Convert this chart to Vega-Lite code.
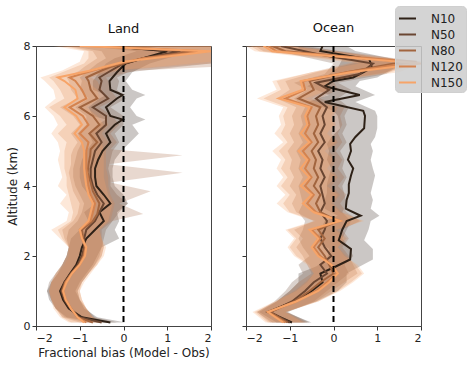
{
"$schema": "https://vega.github.io/schema/vega-lite/v6.json",
"config": {"font": "DejaVu Sans", "view": {"stroke": "#444"},
  "axis": {"grid": false, "labelFontSize": 11, "titleFontSize": 12, "titleFontWeight": "normal", "tickColor": "#333", "domainColor": "#444", "labelColor": "#222", "titleColor": "#222", "tickSize": 4},
  "title": {"fontSize": 13, "fontWeight": "normal", "offset": 4, "color": "#111"}},
"bounds": "flush", "spacing": 35,
"resolve": {"scale": {"stroke": "independent"}, "legend": {"stroke": "independent"}},
"datasets": {
"land": [
{"s":"N10","alt":0.1,"x":-0.3,"lo":-0.6,"hi":0.05},{"s":"N10","alt":0.25,"x":-0.95,"lo":-1.3,"hi":-0.6},{"s":"N10","alt":0.5,"x":-1.25,"lo":-1.55,"hi":-0.9},{"s":"N10","alt":0.75,"x":-1.38,"lo":-1.7,"hi":-1.0},{"s":"N10","alt":1.0,"x":-1.45,"lo":-1.75,"hi":-1.1},{"s":"N10","alt":1.25,"x":-1.35,"lo":-1.65,"hi":-1.0},{"s":"N10","alt":1.5,"x":-1.22,"lo":-1.5,"hi":-0.85},{"s":"N10","alt":1.75,"x":-1.08,"lo":-1.4,"hi":-0.7},{"s":"N10","alt":2.0,"x":-1.0,"lo":-1.3,"hi":-0.6},{"s":"N10","alt":2.25,"x":-0.95,"lo":-1.25,"hi":-0.5},{"s":"N10","alt":2.5,"x":-0.85,"lo":-1.2,"hi":-0.1},{"s":"N10","alt":2.75,"x":-0.65,"lo":-1.0,"hi":-0.2},{"s":"N10","alt":3.0,"x":-0.45,"lo":-0.8,"hi":-0.1},{"s":"N10","alt":3.25,"x":-0.55,"lo":-0.9,"hi":-0.15},{"s":"N10","alt":3.5,"x":-0.3,"lo":-0.65,"hi":0.1},{"s":"N10","alt":3.75,"x":-0.45,"lo":-0.8,"hi":0.0},{"s":"N10","alt":4.0,"x":-0.62,"lo":-0.95,"hi":-0.2},{"s":"N10","alt":4.25,"x":-0.65,"lo":-1.0,"hi":-0.25},{"s":"N10","alt":4.5,"x":-0.65,"lo":-1.0,"hi":-0.25},{"s":"N10","alt":4.75,"x":-0.58,"lo":-0.95,"hi":-0.2},{"s":"N10","alt":5.0,"x":-0.48,"lo":-0.85,"hi":-0.05},{"s":"N10","alt":5.25,"x":-0.3,"lo":-0.7,"hi":0.15},{"s":"N10","alt":5.5,"x":-0.4,"lo":-0.8,"hi":0.35},{"s":"N10","alt":5.75,"x":-0.2,"lo":-0.6,"hi":0.2},{"s":"N10","alt":5.9,"x":-0.02,"lo":-0.4,"hi":0.5},{"s":"N10","alt":6.0,"x":-0.3,"lo":-0.7,"hi":0.3},{"s":"N10","alt":6.25,"x":-0.4,"lo":-0.8,"hi":0.15},{"s":"N10","alt":6.5,"x":-0.15,"lo":-0.55,"hi":0.3},{"s":"N10","alt":6.6,"x":-0.02,"lo":-0.4,"hi":0.5},{"s":"N10","alt":6.75,"x":-0.3,"lo":-0.7,"hi":0.2},{"s":"N10","alt":7.0,"x":-0.32,"lo":-0.7,"hi":0.05},{"s":"N10","alt":7.25,"x":-0.15,"lo":-0.55,"hi":0.2},{"s":"N10","alt":7.5,"x":0.05,"lo":-0.4,"hi":0.6},{"s":"N10","alt":7.65,"x":0.45,"lo":-0.2,"hi":1.0},{"s":"N10","alt":7.85,"x":1.0,"lo":0.3,"hi":1.6},{"s":"N10","alt":8.0,"x":-0.35,"lo":-0.9,"hi":0.3},
{"s":"N50","alt":0.1,"x":-0.5,"lo":-0.85,"hi":-0.15},{"s":"N50","alt":0.25,"x":-1.0,"lo":-1.35,"hi":-0.65},{"s":"N50","alt":0.5,"x":-1.22,"lo":-1.55,"hi":-0.85},{"s":"N50","alt":0.75,"x":-1.35,"lo":-1.65,"hi":-1.0},{"s":"N50","alt":1.0,"x":-1.42,"lo":-1.75,"hi":-1.05},{"s":"N50","alt":1.25,"x":-1.35,"lo":-1.7,"hi":-0.95},{"s":"N50","alt":1.5,"x":-1.2,"lo":-1.55,"hi":-0.8},{"s":"N50","alt":1.75,"x":-1.05,"lo":-1.4,"hi":-0.65},{"s":"N50","alt":2.0,"x":-0.95,"lo":-1.3,"hi":-0.55},{"s":"N50","alt":2.25,"x":-0.9,"lo":-1.25,"hi":-0.5},{"s":"N50","alt":2.5,"x":-0.9,"lo":-1.3,"hi":-0.45},{"s":"N50","alt":2.75,"x":-0.85,"lo":-1.25,"hi":-0.4},{"s":"N50","alt":3.0,"x":-0.65,"lo":-1.05,"hi":-0.25},{"s":"N50","alt":3.25,"x":-0.55,"lo":-0.95,"hi":-0.1},{"s":"N50","alt":3.5,"x":-0.45,"lo":-0.9,"hi":0.1},{"s":"N50","alt":3.75,"x":-0.6,"lo":-1.0,"hi":-0.15},{"s":"N50","alt":4.0,"x":-0.7,"lo":-1.1,"hi":-0.3},{"s":"N50","alt":4.25,"x":-0.75,"lo":-1.15,"hi":-0.3},{"s":"N50","alt":4.5,"x":-0.75,"lo":-1.15,"hi":-0.35},{"s":"N50","alt":4.75,"x":-0.7,"lo":-1.1,"hi":-0.3},{"s":"N50","alt":5.0,"x":-0.65,"lo":-1.05,"hi":-0.25},{"s":"N50","alt":5.25,"x":-0.5,"lo":-0.95,"hi":-0.1},{"s":"N50","alt":5.5,"x":-0.62,"lo":-1.05,"hi":-0.2},{"s":"N50","alt":5.75,"x":-0.4,"lo":-0.85,"hi":0.0},{"s":"N50","alt":6.0,"x":-0.4,"lo":-0.85,"hi":0.0},{"s":"N50","alt":6.25,"x":-0.7,"lo":-1.1,"hi":-0.3},{"s":"N50","alt":6.5,"x":-0.35,"lo":-0.8,"hi":0.05},{"s":"N50","alt":6.75,"x":-0.55,"lo":-1.0,"hi":-0.15},{"s":"N50","alt":7.0,"x":-0.5,"lo":-0.95,"hi":-0.1},{"s":"N50","alt":7.1,"x":-0.55,"lo":-1.0,"hi":-0.15},{"s":"N50","alt":7.25,"x":-0.35,"lo":-0.85,"hi":0.1},{"s":"N50","alt":7.5,"x":0.0,"lo":-0.6,"hi":2.0},{"s":"N50","alt":7.65,"x":0.45,"lo":-0.4,"hi":2.0},{"s":"N50","alt":7.85,"x":1.3,"lo":-0.5,"hi":2.0},{"s":"N50","alt":8.0,"x":-0.5,"lo":-1.2,"hi":2.0},
{"s":"N80","alt":0.1,"x":-0.7,"lo":-1.0,"hi":-0.35},{"s":"N80","alt":0.25,"x":-1.05,"lo":-1.4,"hi":-0.7},{"s":"N80","alt":0.5,"x":-1.2,"lo":-1.55,"hi":-0.85},{"s":"N80","alt":0.75,"x":-1.33,"lo":-1.65,"hi":-1.0},{"s":"N80","alt":1.0,"x":-1.4,"lo":-1.7,"hi":-1.05},{"s":"N80","alt":1.25,"x":-1.33,"lo":-1.65,"hi":-0.95},{"s":"N80","alt":1.5,"x":-1.2,"lo":-1.55,"hi":-0.8},{"s":"N80","alt":1.75,"x":-1.02,"lo":-1.4,"hi":-0.65},{"s":"N80","alt":2.0,"x":-0.92,"lo":-1.3,"hi":-0.5},{"s":"N80","alt":2.25,"x":-0.88,"lo":-1.25,"hi":-0.45},{"s":"N80","alt":2.5,"x":-0.92,"lo":-1.35,"hi":-0.5},{"s":"N80","alt":2.75,"x":-0.95,"lo":-1.4,"hi":-0.5},{"s":"N80","alt":3.0,"x":-0.7,"lo":-1.15,"hi":-0.25},{"s":"N80","alt":3.2,"x":-0.6,"lo":-1.05,"hi":0.45},{"s":"N80","alt":3.5,"x":-0.55,"lo":-1.0,"hi":-0.1},{"s":"N80","alt":3.85,"x":-0.7,"lo":-1.15,"hi":0.62},{"s":"N80","alt":4.1,"x":-0.75,"lo":-1.2,"hi":-0.3},{"s":"N80","alt":4.38,"x":-0.82,"lo":-1.25,"hi":1.35},{"s":"N80","alt":4.62,"x":-0.8,"lo":-1.2,"hi":-0.35},{"s":"N80","alt":4.88,"x":-0.76,"lo":-1.2,"hi":1.35},{"s":"N80","alt":5.05,"x":-0.75,"lo":-1.15,"hi":-0.3},{"s":"N80","alt":5.25,"x":-0.6,"lo":-1.05,"hi":-0.15},{"s":"N80","alt":5.5,"x":-0.78,"lo":-1.2,"hi":-0.3},{"s":"N80","alt":5.75,"x":-0.55,"lo":-1.0,"hi":-0.1},{"s":"N80","alt":6.0,"x":-0.7,"lo":-1.15,"hi":-0.25},{"s":"N80","alt":6.25,"x":-1.0,"lo":-1.45,"hi":-0.55},{"s":"N80","alt":6.5,"x":-0.6,"lo":-1.05,"hi":-0.15},{"s":"N80","alt":6.75,"x":-0.75,"lo":-1.2,"hi":-0.3},{"s":"N80","alt":7.0,"x":-0.8,"lo":-1.25,"hi":-0.35},{"s":"N80","alt":7.1,"x":-0.85,"lo":-1.3,"hi":-0.4},{"s":"N80","alt":7.3,"x":-0.5,"lo":-1.0,"hi":0.3},{"s":"N80","alt":7.4,"x":-0.3,"lo":-0.9,"hi":2.0},{"s":"N80","alt":7.65,"x":0.45,"lo":-0.6,"hi":2.0},{"s":"N80","alt":7.85,"x":1.6,"lo":-0.7,"hi":2.0},{"s":"N80","alt":8.0,"x":-0.6,"lo":-1.3,"hi":2.0},
{"s":"N120","alt":0.1,"x":-0.85,"lo":-1.2,"hi":-0.5},{"s":"N120","alt":0.25,"x":-1.05,"lo":-1.4,"hi":-0.7},{"s":"N120","alt":0.5,"x":-1.2,"lo":-1.55,"hi":-0.85},{"s":"N120","alt":0.75,"x":-1.32,"lo":-1.65,"hi":-0.95},{"s":"N120","alt":1.0,"x":-1.38,"lo":-1.7,"hi":-1.0},{"s":"N120","alt":1.25,"x":-1.32,"lo":-1.65,"hi":-0.95},{"s":"N120","alt":1.5,"x":-1.18,"lo":-1.5,"hi":-0.8},{"s":"N120","alt":1.75,"x":-1.0,"lo":-1.35,"hi":-0.6},{"s":"N120","alt":2.0,"x":-0.9,"lo":-1.25,"hi":-0.5},{"s":"N120","alt":2.25,"x":-0.86,"lo":-1.25,"hi":-0.45},{"s":"N120","alt":2.5,"x":-0.95,"lo":-1.4,"hi":-0.5},{"s":"N120","alt":2.75,"x":-1.0,"lo":-1.5,"hi":-0.55},{"s":"N120","alt":3.0,"x":-0.75,"lo":-1.2,"hi":-0.3},{"s":"N120","alt":3.25,"x":-0.7,"lo":-1.15,"hi":-0.25},{"s":"N120","alt":3.5,"x":-0.65,"lo":-1.2,"hi":-0.2},{"s":"N120","alt":3.75,"x":-0.75,"lo":-1.25,"hi":-0.3},{"s":"N120","alt":4.0,"x":-0.8,"lo":-1.3,"hi":-0.35},{"s":"N120","alt":4.25,"x":-0.82,"lo":-1.3,"hi":-0.35},{"s":"N120","alt":4.5,"x":-0.85,"lo":-1.35,"hi":-0.4},{"s":"N120","alt":4.75,"x":-0.85,"lo":-1.35,"hi":-0.4},{"s":"N120","alt":5.0,"x":-0.85,"lo":-1.35,"hi":-0.4},{"s":"N120","alt":5.25,"x":-0.8,"lo":-1.3,"hi":-0.35},{"s":"N120","alt":5.5,"x":-1.0,"lo":-1.5,"hi":-0.5},{"s":"N120","alt":5.75,"x":-0.8,"lo":-1.3,"hi":-0.35},{"s":"N120","alt":6.0,"x":-0.93,"lo":-1.45,"hi":-0.45},{"s":"N120","alt":6.25,"x":-1.23,"lo":-1.7,"hi":-0.75},{"s":"N120","alt":6.5,"x":-0.85,"lo":-1.35,"hi":-0.4},{"s":"N120","alt":6.75,"x":-0.95,"lo":-1.45,"hi":-0.5},{"s":"N120","alt":7.0,"x":-1.1,"lo":-1.6,"hi":-0.6},{"s":"N120","alt":7.1,"x":-1.23,"lo":-1.7,"hi":-0.75},{"s":"N120","alt":7.3,"x":-0.7,"lo":-1.3,"hi":-0.1},{"s":"N120","alt":7.5,"x":-0.1,"lo":-0.9,"hi":2.0},{"s":"N120","alt":7.65,"x":0.45,"lo":-0.8,"hi":2.0},{"s":"N120","alt":7.85,"x":1.9,"lo":-0.8,"hi":2.0},{"s":"N120","alt":8.0,"x":-0.8,"lo":-1.4,"hi":2.0},
{"s":"N150","alt":0.1,"x":-0.9,"lo":-1.25,"hi":-0.55},{"s":"N150","alt":0.25,"x":-1.05,"lo":-1.45,"hi":-0.7},{"s":"N150","alt":0.5,"x":-1.2,"lo":-1.6,"hi":-0.85},{"s":"N150","alt":0.75,"x":-1.32,"lo":-1.65,"hi":-0.95},{"s":"N150","alt":1.0,"x":-1.38,"lo":-1.7,"hi":-1.0},{"s":"N150","alt":1.25,"x":-1.3,"lo":-1.65,"hi":-0.9},{"s":"N150","alt":1.5,"x":-1.18,"lo":-1.55,"hi":-0.75},{"s":"N150","alt":1.75,"x":-1.0,"lo":-1.4,"hi":-0.6},{"s":"N150","alt":2.0,"x":-0.88,"lo":-1.3,"hi":-0.45},{"s":"N150","alt":2.25,"x":-0.85,"lo":-1.25,"hi":-0.4},{"s":"N150","alt":2.5,"x":-0.95,"lo":-1.45,"hi":-0.5},{"s":"N150","alt":2.75,"x":-1.0,"lo":-1.65,"hi":-0.55},{"s":"N150","alt":3.0,"x":-0.8,"lo":-1.3,"hi":-0.35},{"s":"N150","alt":3.25,"x":-0.75,"lo":-1.25,"hi":-0.3},{"s":"N150","alt":3.5,"x":-0.7,"lo":-1.45,"hi":-0.25},{"s":"N150","alt":3.75,"x":-0.8,"lo":-1.3,"hi":-0.35},{"s":"N150","alt":4.0,"x":-0.85,"lo":-1.5,"hi":-0.4},{"s":"N150","alt":4.25,"x":-0.88,"lo":-1.4,"hi":-0.45},{"s":"N150","alt":4.5,"x":-0.9,"lo":-1.45,"hi":-0.45},{"s":"N150","alt":4.75,"x":-0.9,"lo":-1.5,"hi":-0.45},{"s":"N150","alt":5.0,"x":-0.9,"lo":-1.45,"hi":-0.45},{"s":"N150","alt":5.25,"x":-0.95,"lo":-1.5,"hi":-0.5},{"s":"N150","alt":5.5,"x":-1.12,"lo":-1.65,"hi":-0.6},{"s":"N150","alt":5.75,"x":-0.95,"lo":-1.5,"hi":-0.45},{"s":"N150","alt":6.0,"x":-1.08,"lo":-1.6,"hi":-0.6},{"s":"N150","alt":6.25,"x":-1.35,"lo":-1.8,"hi":-0.85},{"s":"N150","alt":6.5,"x":-1.05,"lo":-1.55,"hi":-0.55},{"s":"N150","alt":6.75,"x":-1.1,"lo":-1.6,"hi":-0.6},{"s":"N150","alt":7.0,"x":-1.35,"lo":-1.8,"hi":-0.85},{"s":"N150","alt":7.1,"x":-1.5,"lo":-1.9,"hi":-1.0},{"s":"N150","alt":7.3,"x":-0.75,"lo":-1.4,"hi":-0.2},{"s":"N150","alt":7.55,"x":0.0,"lo":-1.0,"hi":2.0},{"s":"N150","alt":7.85,"x":2.0,"lo":-0.9,"hi":2.0},{"s":"N150","alt":8.0,"x":-1.0,"lo":-1.6,"hi":2.0}
],
"ocean": [
{"s":"N10","alt":0.1,"x":-0.95,"lo":-1.3,"hi":-0.5},{"s":"N10","alt":0.4,"x":-1.5,"lo":-1.7,"hi":-1.1},{"s":"N10","alt":0.7,"x":-0.9,"lo":-1.3,"hi":-0.4},{"s":"N10","alt":1.0,"x":-0.5,"lo":-1.0,"hi":0.1},{"s":"N10","alt":1.25,"x":-0.25,"lo":-0.8,"hi":0.3},{"s":"N10","alt":1.5,"x":-0.3,"lo":-0.8,"hi":0.3},{"s":"N10","alt":1.7,"x":0.05,"lo":-0.4,"hi":0.6},{"s":"N10","alt":1.9,"x":0.38,"lo":-0.15,"hi":0.9},{"s":"N10","alt":2.2,"x":0.4,"lo":-0.1,"hi":0.9},{"s":"N10","alt":2.45,"x":0.12,"lo":-0.4,"hi":0.7},{"s":"N10","alt":2.75,"x":0.2,"lo":-0.3,"hi":0.8},{"s":"N10","alt":3.0,"x":0.3,"lo":-0.2,"hi":0.85},{"s":"N10","alt":3.15,"x":0.62,"lo":0.1,"hi":1.05},{"s":"N10","alt":3.35,"x":0.28,"lo":-0.2,"hi":0.85},{"s":"N10","alt":3.6,"x":0.3,"lo":-0.2,"hi":0.9},{"s":"N10","alt":3.8,"x":0.35,"lo":-0.15,"hi":0.85},{"s":"N10","alt":4.05,"x":0.35,"lo":-0.15,"hi":0.9},{"s":"N10","alt":4.3,"x":0.4,"lo":-0.1,"hi":0.95},{"s":"N10","alt":4.5,"x":0.45,"lo":-0.05,"hi":0.9},{"s":"N10","alt":4.75,"x":0.33,"lo":-0.15,"hi":0.85},{"s":"N10","alt":5.0,"x":0.4,"lo":-0.1,"hi":0.9},{"s":"N10","alt":5.2,"x":0.38,"lo":-0.15,"hi":0.85},{"s":"N10","alt":5.4,"x":0.5,"lo":-0.05,"hi":0.95},{"s":"N10","alt":5.65,"x":0.7,"lo":0.15,"hi":1.0},{"s":"N10","alt":6.0,"x":0.72,"lo":0.1,"hi":1.0},{"s":"N10","alt":6.15,"x":0.68,"lo":0.0,"hi":0.95},{"s":"N10","alt":6.4,"x":-0.2,"lo":-0.6,"hi":0.5},{"s":"N10","alt":6.6,"x":0.6,"lo":-0.1,"hi":0.95},{"s":"N10","alt":6.85,"x":-0.2,"lo":-0.6,"hi":0.5},{"s":"N10","alt":7.0,"x":0.0,"lo":-0.4,"hi":0.6},{"s":"N10","alt":7.1,"x":0.45,"lo":-0.2,"hi":1.0},{"s":"N10","alt":7.38,"x":0.88,"lo":0.1,"hi":1.4},{"s":"N10","alt":7.62,"x":0.82,"lo":0.2,"hi":1.4},{"s":"N10","alt":7.86,"x":-0.3,"lo":-0.8,"hi":0.5},{"s":"N10","alt":8.0,"x":-0.25,"lo":-0.8,"hi":0.3},
{"s":"N50","alt":0.1,"x":-1.0,"lo":-1.4,"hi":-0.55},{"s":"N50","alt":0.4,"x":-1.45,"lo":-1.75,"hi":-1.05},{"s":"N50","alt":0.7,"x":-0.95,"lo":-1.35,"hi":-0.45},{"s":"N50","alt":1.0,"x":-0.65,"lo":-1.1,"hi":-0.15},{"s":"N50","alt":1.25,"x":-0.45,"lo":-0.95,"hi":0.1},{"s":"N50","alt":1.5,"x":-0.15,"lo":-0.7,"hi":0.35},{"s":"N50","alt":1.75,"x":-0.3,"lo":-0.8,"hi":0.25},{"s":"N50","alt":2.0,"x":-0.05,"lo":-0.55,"hi":0.45},{"s":"N50","alt":2.25,"x":-0.2,"lo":-0.7,"hi":0.35},{"s":"N50","alt":2.5,"x":-0.3,"lo":-0.8,"hi":0.2},{"s":"N50","alt":2.75,"x":-0.2,"lo":-0.7,"hi":0.3},{"s":"N50","alt":3.0,"x":-0.15,"lo":-0.65,"hi":0.4},{"s":"N50","alt":3.25,"x":-0.3,"lo":-0.8,"hi":0.2},{"s":"N50","alt":3.5,"x":-0.2,"lo":-0.7,"hi":0.3},{"s":"N50","alt":3.75,"x":-0.25,"lo":-0.75,"hi":0.25},{"s":"N50","alt":4.0,"x":-0.3,"lo":-0.8,"hi":0.2},{"s":"N50","alt":4.25,"x":-0.2,"lo":-0.7,"hi":0.3},{"s":"N50","alt":4.5,"x":-0.3,"lo":-0.8,"hi":0.2},{"s":"N50","alt":4.75,"x":-0.25,"lo":-0.75,"hi":0.25},{"s":"N50","alt":5.0,"x":-0.35,"lo":-0.85,"hi":0.15},{"s":"N50","alt":5.25,"x":-0.2,"lo":-0.7,"hi":0.3},{"s":"N50","alt":5.5,"x":-0.3,"lo":-0.8,"hi":0.2},{"s":"N50","alt":5.75,"x":-0.2,"lo":-0.7,"hi":0.3},{"s":"N50","alt":6.0,"x":-0.25,"lo":-0.75,"hi":0.25},{"s":"N50","alt":6.25,"x":-0.15,"lo":-0.65,"hi":0.35},{"s":"N50","alt":6.5,"x":-0.4,"lo":-0.9,"hi":0.1},{"s":"N50","alt":6.75,"x":-0.1,"lo":-0.6,"hi":0.4},{"s":"N50","alt":6.95,"x":-0.4,"lo":-0.9,"hi":0.1},{"s":"N50","alt":7.2,"x":0.6,"lo":-0.2,"hi":1.2},{"s":"N50","alt":7.5,"x":0.9,"lo":0.0,"hi":1.6},{"s":"N50","alt":7.75,"x":-0.3,"lo":-0.9,"hi":0.6},{"s":"N50","alt":8.0,"x":-1.2,"lo":-1.6,"hi":-0.6},
{"s":"N80","alt":0.1,"x":-1.05,"lo":-1.45,"hi":-0.6},{"s":"N80","alt":0.4,"x":-1.45,"lo":-1.75,"hi":-1.05},{"s":"N80","alt":0.7,"x":-0.9,"lo":-1.3,"hi":-0.4},{"s":"N80","alt":1.0,"x":-0.55,"lo":-1.0,"hi":-0.05},{"s":"N80","alt":1.25,"x":-0.3,"lo":-0.8,"hi":0.25},{"s":"N80","alt":1.5,"x":0.0,"lo":-0.5,"hi":0.55},{"s":"N80","alt":1.75,"x":-0.1,"lo":-0.6,"hi":0.45},{"s":"N80","alt":2.0,"x":-0.2,"lo":-0.7,"hi":0.35},{"s":"N80","alt":2.25,"x":-0.35,"lo":-0.85,"hi":0.2},{"s":"N80","alt":2.5,"x":-0.2,"lo":-0.7,"hi":0.35},{"s":"N80","alt":2.75,"x":-0.35,"lo":-0.9,"hi":0.2},{"s":"N80","alt":3.0,"x":0.1,"lo":-0.45,"hi":0.6},{"s":"N80","alt":3.25,"x":-0.3,"lo":-0.85,"hi":0.3},{"s":"N80","alt":3.5,"x":-0.4,"lo":-0.95,"hi":0.15},{"s":"N80","alt":3.75,"x":-0.3,"lo":-0.85,"hi":0.3},{"s":"N80","alt":4.0,"x":-0.45,"lo":-1.0,"hi":0.1},{"s":"N80","alt":4.25,"x":-0.35,"lo":-0.9,"hi":0.25},{"s":"N80","alt":4.5,"x":-0.45,"lo":-1.0,"hi":0.1},{"s":"N80","alt":4.75,"x":-0.4,"lo":-0.95,"hi":0.2},{"s":"N80","alt":5.0,"x":-0.5,"lo":-1.05,"hi":0.05},{"s":"N80","alt":5.25,"x":-0.35,"lo":-0.9,"hi":0.2},{"s":"N80","alt":5.5,"x":-0.45,"lo":-1.0,"hi":0.1},{"s":"N80","alt":5.75,"x":-0.35,"lo":-0.9,"hi":0.2},{"s":"N80","alt":6.0,"x":-0.4,"lo":-0.95,"hi":0.15},{"s":"N80","alt":6.25,"x":-0.3,"lo":-0.85,"hi":0.25},{"s":"N80","alt":6.5,"x":-0.8,"lo":-1.3,"hi":-0.3},{"s":"N80","alt":6.75,"x":-0.45,"lo":-1.0,"hi":0.1},{"s":"N80","alt":7.0,"x":-0.55,"lo":-1.1,"hi":0.0},{"s":"N80","alt":7.25,"x":0.3,"lo":-0.4,"hi":1.2},{"s":"N80","alt":7.55,"x":1.6,"lo":0.6,"hi":2.0},{"s":"N80","alt":7.85,"x":-1.1,"lo":-1.6,"hi":0.2},{"s":"N80","alt":8.0,"x":-1.4,"lo":-1.8,"hi":-0.9},
{"s":"N120","alt":0.1,"x":-1.1,"lo":-1.5,"hi":-0.65},{"s":"N120","alt":0.4,"x":-1.5,"lo":-1.8,"hi":-1.1},{"s":"N120","alt":0.7,"x":-0.85,"lo":-1.3,"hi":-0.35},{"s":"N120","alt":1.0,"x":-0.4,"lo":-0.9,"hi":0.1},{"s":"N120","alt":1.25,"x":-0.15,"lo":-0.65,"hi":0.4},{"s":"N120","alt":1.5,"x":0.08,"lo":-0.45,"hi":0.65},{"s":"N120","alt":1.75,"x":-0.05,"lo":-0.55,"hi":0.5},{"s":"N120","alt":2.0,"x":-0.3,"lo":-0.85,"hi":0.3},{"s":"N120","alt":2.25,"x":-0.45,"lo":-1.0,"hi":0.1},{"s":"N120","alt":2.5,"x":-0.3,"lo":-0.85,"hi":0.3},{"s":"N120","alt":2.75,"x":-0.5,"lo":-1.05,"hi":0.1},{"s":"N120","alt":3.0,"x":0.15,"lo":-0.4,"hi":0.65},{"s":"N120","alt":3.25,"x":-0.4,"lo":-1.0,"hi":0.2},{"s":"N120","alt":3.5,"x":-0.6,"lo":-1.15,"hi":0.0},{"s":"N120","alt":3.75,"x":-0.45,"lo":-1.0,"hi":0.15},{"s":"N120","alt":4.0,"x":-0.65,"lo":-1.2,"hi":-0.05},{"s":"N120","alt":4.25,"x":-0.5,"lo":-1.05,"hi":0.1},{"s":"N120","alt":4.5,"x":-0.65,"lo":-1.2,"hi":-0.05},{"s":"N120","alt":4.75,"x":-0.55,"lo":-1.1,"hi":0.05},{"s":"N120","alt":5.0,"x":-0.7,"lo":-1.25,"hi":-0.1},{"s":"N120","alt":5.25,"x":-0.5,"lo":-1.05,"hi":0.1},{"s":"N120","alt":5.5,"x":-0.65,"lo":-1.2,"hi":-0.05},{"s":"N120","alt":5.75,"x":-0.55,"lo":-1.1,"hi":0.05},{"s":"N120","alt":6.0,"x":-0.6,"lo":-1.15,"hi":0.0},{"s":"N120","alt":6.25,"x":-0.5,"lo":-1.05,"hi":0.1},{"s":"N120","alt":6.5,"x":-1.1,"lo":-1.6,"hi":-0.5},{"s":"N120","alt":6.75,"x":-0.65,"lo":-1.2,"hi":-0.1},{"s":"N120","alt":7.0,"x":-0.7,"lo":-1.3,"hi":-0.1},{"s":"N120","alt":7.25,"x":0.3,"lo":-0.5,"hi":1.3},{"s":"N120","alt":7.55,"x":1.9,"lo":0.5,"hi":2.0},{"s":"N120","alt":7.85,"x":-1.3,"lo":-1.7,"hi":0.0},{"s":"N120","alt":8.0,"x":-1.5,"lo":-1.9,"hi":-1.0},
{"s":"N150","alt":0.1,"x":-1.15,"lo":-1.55,"hi":-0.7},{"s":"N150","alt":0.4,"x":-1.5,"lo":-1.85,"hi":-1.1},{"s":"N150","alt":0.7,"x":-0.85,"lo":-1.35,"hi":-0.35},{"s":"N150","alt":1.0,"x":-0.35,"lo":-0.85,"hi":0.15},{"s":"N150","alt":1.25,"x":-0.1,"lo":-0.6,"hi":0.45},{"s":"N150","alt":1.5,"x":0.1,"lo":-0.45,"hi":0.7},{"s":"N150","alt":1.75,"x":-0.05,"lo":-0.6,"hi":0.55},{"s":"N150","alt":2.0,"x":-0.35,"lo":-0.9,"hi":0.25},{"s":"N150","alt":2.25,"x":-0.5,"lo":-1.05,"hi":0.1},{"s":"N150","alt":2.5,"x":-0.35,"lo":-0.9,"hi":0.25},{"s":"N150","alt":2.75,"x":-0.55,"lo":-1.1,"hi":0.05},{"s":"N150","alt":3.0,"x":0.15,"lo":-0.45,"hi":0.7},{"s":"N150","alt":3.25,"x":-0.45,"lo":-1.05,"hi":0.15},{"s":"N150","alt":3.5,"x":-0.7,"lo":-1.3,"hi":-0.05},{"s":"N150","alt":3.75,"x":-0.5,"lo":-1.1,"hi":0.1},{"s":"N150","alt":4.0,"x":-0.75,"lo":-1.3,"hi":-0.15},{"s":"N150","alt":4.25,"x":-0.55,"lo":-1.15,"hi":0.05},{"s":"N150","alt":4.5,"x":-0.75,"lo":-1.3,"hi":-0.15},{"s":"N150","alt":4.75,"x":-0.6,"lo":-1.2,"hi":0.0},{"s":"N150","alt":5.0,"x":-0.8,"lo":-1.4,"hi":-0.2},{"s":"N150","alt":5.25,"x":-0.55,"lo":-1.15,"hi":0.05},{"s":"N150","alt":5.5,"x":-0.75,"lo":-1.35,"hi":-0.15},{"s":"N150","alt":5.75,"x":-0.6,"lo":-1.2,"hi":0.0},{"s":"N150","alt":6.0,"x":-0.65,"lo":-1.25,"hi":-0.05},{"s":"N150","alt":6.25,"x":-0.55,"lo":-1.15,"hi":0.05},{"s":"N150","alt":6.5,"x":-1.25,"lo":-1.75,"hi":-0.65},{"s":"N150","alt":6.75,"x":-0.7,"lo":-1.3,"hi":-0.1},{"s":"N150","alt":7.0,"x":-0.75,"lo":-1.4,"hi":-0.1},{"s":"N150","alt":7.25,"x":0.4,"lo":-0.5,"hi":1.5},{"s":"N150","alt":7.5,"x":2.0,"lo":0.6,"hi":2.0},{"s":"N150","alt":7.85,"x":-1.4,"lo":-1.8,"hi":0.0},{"s":"N150","alt":8.0,"x":-1.6,"lo":-2.0,"hi":-1.1}
]},
"hconcat": [
{"width": 175, "height": 280, "title": "Land",
 "layer": [
  {"data": {"name": "land"}, "mark": {"type": "area", "orient": "horizontal", "opacity": 0.25, "clip": true},
   "encoding": {
    "y": {"field": "alt", "type": "quantitative", "scale": {"domain": [0, 8], "nice": false}, "axis": {"title": "Altitude (km)", "values": [0,1,2,3,4,5,6,7,8]}},
    "x": {"field": "lo", "type": "quantitative", "scale": {"domain": [-2, 2], "nice": false}, "axis": {"title": "Fractional bias (Model - Obs)", "values": [-2,-1,0,1,2]}},
    "x2": {"field": "hi"},
    "fill": {"field": "s", "type": "nominal", "scale": {"domain": ["N10","N50","N80","N120","N150"], "range": ["#2e2117","#6a4632","#a2653f","#d4834f","#f7a468"]}, "legend": null}}},
  {"data": {"name": "land"}, "mark": {"type": "line", "strokeWidth": 2, "clip": true},
   "encoding": {
    "y": {"field": "alt", "type": "quantitative"},
    "x": {"field": "x", "type": "quantitative"},
    "order": {"field": "alt"},
    "stroke": {"field": "s", "type": "nominal", "scale": {"domain": ["N10","N50","N80","N120","N150"], "range": ["#2e2117","#6a4632","#a2653f","#d4834f","#f7a468"]}, "legend": null}}},
  {"data": {"values": [{}]}, "mark": {"type": "rule", "strokeDash": [6, 4], "strokeWidth": 2, "color": "black"},
   "encoding": {"x": {"datum": 0, "type": "quantitative"}}}
 ]},
{"width": 175, "height": 280, "title": {"text": "Ocean", "offset": -29},
 "layer": [
  {"data": {"name": "ocean"}, "mark": {"type": "area", "orient": "horizontal", "opacity": 0.25, "clip": true},
   "encoding": {
    "y": {"field": "alt", "type": "quantitative", "scale": {"domain": [0, 8], "nice": false}, "axis": {"title": null, "labels": false, "values": [0,1,2,3,4,5,6,7,8]}},
    "x": {"field": "lo", "type": "quantitative", "scale": {"domain": [-2, 2], "nice": false}, "axis": {"title": null, "values": [-2,-1,0,1,2]}},
    "x2": {"field": "hi"},
    "fill": {"field": "s", "type": "nominal", "scale": {"domain": ["N10","N50","N80","N120","N150"], "range": ["#2e2117","#6a4632","#a2653f","#d4834f","#f7a468"]}, "legend": null}}},
  {"data": {"name": "ocean"}, "mark": {"type": "line", "strokeWidth": 2, "clip": true},
   "encoding": {
    "y": {"field": "alt", "type": "quantitative"},
    "x": {"field": "x", "type": "quantitative"},
    "order": {"field": "alt"},
    "stroke": {"field": "s", "type": "nominal", "scale": {"domain": ["N10","N50","N80","N120","N150"], "range": ["#2e2117","#6a4632","#a2653f","#d4834f","#f7a468"]},
      "legend": {"title": null, "orient": "none", "legendX": 149, "legendY": -40, "symbolType": "stroke", "symbolSize": 289, "symbolStrokeWidth": 2, "labelFontSize": 12, "labelColor": "#222", "fillColor": "rgba(205,205,205,0.85)", "strokeColor": "#cfcfcf", "cornerRadius": 4, "padding": 3, "rowPadding": 0, "labelOffset": 14}}}},
  {"data": {"values": [{}]}, "mark": {"type": "rule", "strokeDash": [6, 4], "strokeWidth": 2, "color": "black"},
   "encoding": {"x": {"datum": 0, "type": "quantitative"}}}
 ]}
]
}
